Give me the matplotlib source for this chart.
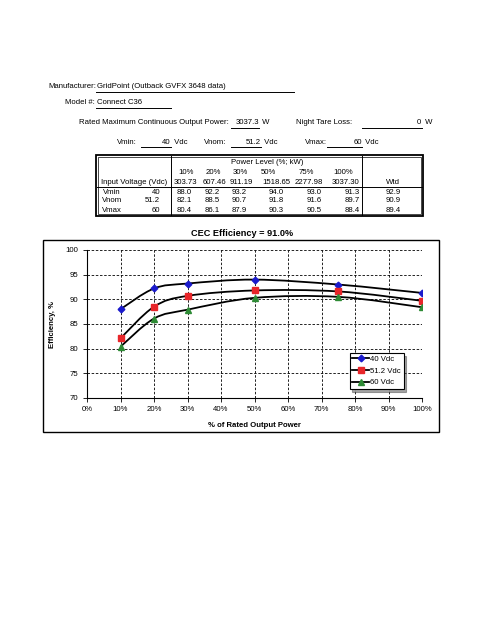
import numpy as np
import matplotlib
matplotlib.use('Agg')
import matplotlib.pyplot as plt
from matplotlib.path import Path
from matplotlib.patches import PathPatch, Rectangle
from matplotlib.lines import Line2D

plt.rcParams['font.family'] = ['Liberation Sans', 'DejaVu Sans']

# data
manufacturer = 'GridPoint (Outback GVFX 3648 data)'
model = 'Connect C36'
rated_power = '3037.3'
tare_loss = '0'
v_labels = ['Vmin', 'Vnom', 'Vmax']
v_values = ['40', '51.2', '60']
pct = [10, 20, 30, 50, 75, 100]
kw = ['303.73', '607.46', '911.19', '1518.65', '2277.98', '3037.30']
eff_vmin = [88.0, 92.2, 93.2, 94.0, 93.0, 91.3]
eff_vnom = [82.1, 88.5, 90.7, 91.8, 91.6, 89.7]
eff_vmax = [80.4, 86.1, 87.9, 90.3, 90.5, 88.4]
wtd = [92.9, 90.9, 89.4]
cec = 91.0
series_names = ['40 Vdc', '51.2 Vdc', '60 Vdc']

W, H = 495, 640
fig = plt.figure(figsize=(W / 100, H / 100), dpi=100)
fs = 5.6


def P(x, y):
    return x / W, 1 - y / H


def txt(x, y, s, ha='left', **kw_):
    fig.text(*P(x, y), s, ha=ha, va='center', fontsize=kw_.pop('size', fs), **kw_)


def hline(x0, x1, y, lw=0.7):
    fig.add_artist(Line2D([x0 / W, x1 / W], [1 - y / H, 1 - y / H], color='black', lw=lw))


def vline(x, y0, y1, lw=0.7):
    fig.add_artist(Line2D([x / W, x / W], [1 - y0 / H, 1 - y1 / H], color='black', lw=lw))


# header info
txt(48, 87, 'Manufacturer:')
txt(97, 87, manufacturer)
hline(96, 294, 92)
txt(95, 103, 'Model #:', ha='right')
txt(97, 103, model)
hline(96, 171, 108)
txt(79, 123, 'Rated Maximum Continuous Output Power:')
txt(259, 123, rated_power, ha='right')
hline(231, 259, 127.5)
txt(260, 123, ' W')
txt(296, 123, 'Night Tare Loss:')
txt(421, 123, tare_loss, ha='right')
hline(362, 422, 127.5)
txt(423, 123, ' W')

txt(117, 142, 'Vmin:')
txt(171, 142, v_values[0], ha='right')
hline(141, 171, 146.5)
txt(172, 142, ' Vdc')
txt(204, 142, 'Vnom:')
txt(261, 142, v_values[1], ha='right')
hline(231, 261, 146.5)
txt(262, 142, ' Vdc')
txt(305, 142, 'Vmax:')
txt(362, 142, v_values[2], ha='right')
hline(327, 362, 146.5)
txt(363, 142, ' Vdc')

# table
fig.add_artist(Rectangle(P(96, 216), 327 / W, 61 / H, fill=False, lw=1.3, color='black'))
fig.add_artist(Rectangle(P(98, 214), 323 / W, 57 / H, fill=False, lw=0.5, color='black'))
vline(171, 156, 215)
vline(362, 156, 215)
hline(97, 422, 187)
txt(267, 163, 'Power Level (%; kW)', ha='center')
col_c = [186, 213, 240, 268, 306, 343]
col_r = [197, 226, 253, 290, 323, 359]
for c, p in zip(col_c, pct):
    txt(c, 173, f'{p}%', ha='center')
txt(101, 182, 'Input Voltage (Vdc)')
for r, k in zip(col_r, kw):
    txt(r, 182, k, ha='right')
txt(393, 182, 'Wtd', ha='center')
rows = [eff_vmin, eff_vnom, eff_vmax]
for i, (lab, vv, row) in enumerate(zip(v_labels, v_values, rows)):
    y = 192 + i * 9
    txt(112, y, lab, ha='center')
    txt(160, y, vv, ha='right')
    for r, v in zip([192, 220, 247, 284, 322, 360], row):
        txt(r, y, f'{v:.1f}', ha='right')
    txt(393, y, f'{wtd[i]:.1f}', ha='center')

# chart frame and title
fig.add_artist(Rectangle(P(43, 432), 396 / W, 192 / H, fill=False, lw=1.0, color='black'))
txt(242, 233, f'CEC Efficiency = {cec:.1f}%', ha='center', size=6.6, fontweight='bold')

ax = fig.add_axes([87 / W, 1 - 398 / H, (422 - 87) / W, (398 - 250) / H])
ax.set_xlim(0, 100)
ax.set_ylim(70, 100)
ax.set_xticks(np.arange(0, 101, 10))
ax.set_xticklabels([f'{t}%' for t in range(0, 101, 10)])
ax.set_yticks(np.arange(70, 101, 5))
ax.grid(True, color='black', ls=(0, (3, 2)), lw=0.6)
for s in ['top', 'right']:
    ax.spines[s].set_visible(False)
for s in ['left', 'bottom']:
    ax.spines[s].set_linewidth(0.8)
ax.tick_params(labelsize=fs, length=3, width=0.6, pad=3)
ax.set_xlabel('% of Rated Output Power', fontsize=fs, fontweight='bold', labelpad=6)
ax.set_ylabel('Efficiency, %', fontsize=fs, fontweight='bold', labelpad=7)


def smooth_path(xs, ys):
    # Excel-style smoothed line as cubic Bezier segments
    pts = np.column_stack([xs, ys]).astype(float)
    n = len(pts)
    verts = [pts[0]]
    codes = [Path.MOVETO]
    for i in range(n - 1):
        p0 = pts[max(i - 1, 0)]
        p1 = pts[i]
        p2 = pts[i + 1]
        p3 = pts[min(i + 2, n - 1)]
        verts += [p1 + (p2 - p0) / 6, p2 - (p3 - p1) / 6, p2]
        codes += [Path.CURVE4] * 3
    return Path(verts, codes)


markers = ['D', 's', '^']
colors = ['#1a1acc', '#e8262a', '#2e8b35']
msizes = [3.4, 4.4, 4.4]
handles = []
for row, m, c, ms, name in zip(rows, markers, colors, msizes, series_names):
    ax.add_patch(PathPatch(smooth_path(pct, row), fill=False, ec='black', lw=1.3, zorder=3))
    ax.plot(pct, row, ls='none', marker=m, color=c, ms=ms, zorder=4)
    handles.append(Line2D([], [], color='black', lw=1.3, marker=m, mfc=c, mec=c, ms=ms, label=name))

leg = ax.legend(handles=handles, loc='lower right', bbox_to_anchor=(0.945, 0.06), fontsize=fs,
                frameon=True, fancybox=False, shadow=True, handlelength=2.2, handletextpad=0.1,
                borderpad=0.35, labelspacing=0.55, borderaxespad=0)
leg.get_frame().set_edgecolor('black')
leg.get_frame().set_linewidth(0.8)

fig.savefig('out.png', dpi=100)
